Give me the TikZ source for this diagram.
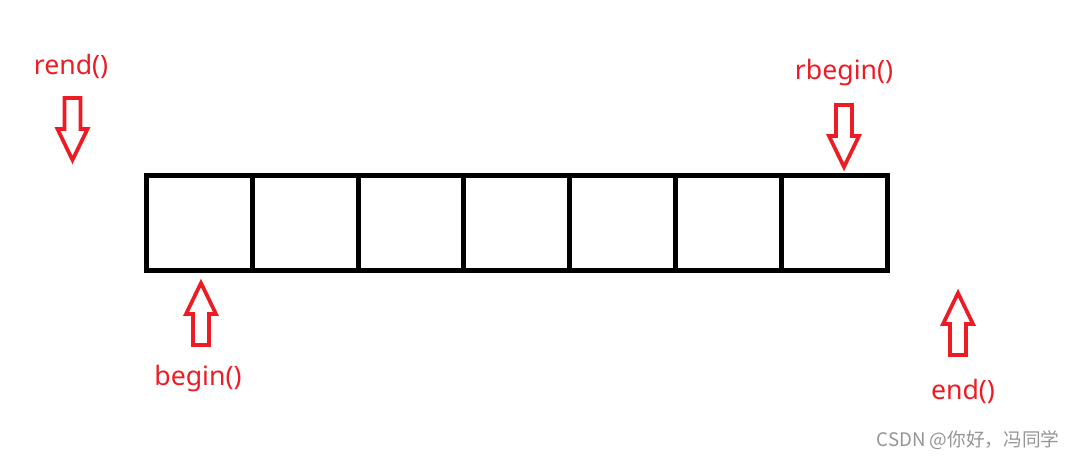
\documentclass[tikz,border=0pt]{standalone}
\usepackage{fontspec}
\setmainfont{Noto Sans}
\newfontfamily\cjk{Noto Sans CJK SC}
\definecolor{paintred}{RGB}{237,28,36}

% hollow block arrow from its tip; #2 = 1 points down, -1 points up
\newcommand{\hollowarrow}[2]{%
  \draw[arrowline] (#1) -- ++(-15,{-31*(#2)}) -- ++(7,0) -- ++(0,{-31*(#2)})
    -- ++(16,0) -- ++(0,{31*(#2)}) -- ++(7,0) -- cycle;}

\begin{document}
\begin{tikzpicture}[x=0.75pt,y=-0.75pt,
  cell/.style={draw, line width=3.75pt, minimum width=79.35pt, minimum height=71.25pt, inner sep=0pt},
  arrowline/.style={draw=paintred, line width=2.8pt, line join=miter},
  lbl/.style={text=paintred, font=\fontsize{20}{23}\selectfont, inner sep=0pt}]
\useasboundingbox (0,0) rectangle (1078,458);

\foreach \i in {1,...,7}{% seven cells of the container
    \node[cell] (c\i) at (146.5+105.8*\i-52.9,223) {};}

\coordinate (rendtip) at (72.5,160);
\coordinate (rbegintip) at (844,167);
\coordinate (begintip) at (201,283);
\coordinate (endtip) at (958,293);
\hollowarrow{rendtip}{1}
\hollowarrow{rbegintip}{1}
\hollowarrow{begintip}{-1}
\hollowarrow{endtip}{-1}

\node[lbl] (rend) at (71,66) {rend()};
\node[lbl] (rbegin) at (844,73) {rbegin()};
\node[lbl] (begin) at (198,379) {begin()};
\node[lbl] (end) at (963,391) {end()};

\node[text=black!42, font=\cjk\fontsize{14}{16}\selectfont, inner sep=0pt] (mark) at (968,440) {CSDN @你好，冯同学};
\end{tikzpicture}
\end{document}
